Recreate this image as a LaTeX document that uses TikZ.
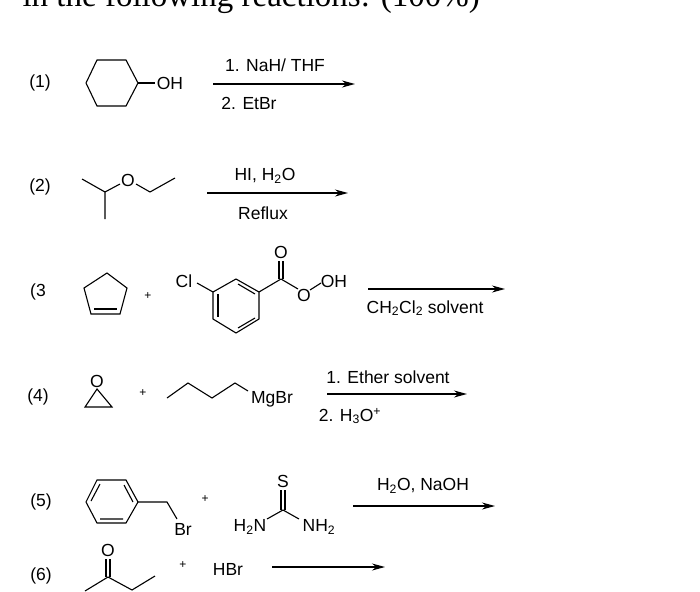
\documentclass[tikz,border=0pt]{standalone}
\usepackage{fontspec}
\usetikzlibrary{arrows.meta}
\setmainfont{Liberation Sans}
\newfontfamily\serifx{Liberation Serif}
\begin{document}
\begin{tikzpicture}[x=1pt,y=-1pt,line width=1.1pt,
  lab/.style={inner sep=0pt,font=\fontsize{17.5}{20}\selectfont},
  small/.style={inner sep=0pt,font=\fontsize{12}{13}\selectfont},
  rx/.style={-{Stealth[length=13pt,width=7pt]},line width=1.3pt}]
\useasboundingbox (0,0) rectangle (700,591);
\begin{scope}
\clip (0,0) rectangle (700,591);
\node[anchor=base west,inner sep=0pt,font=\serifx\fontsize{33}{36}\selectfont] (title) at (22,7) {in the following reactions: (100\%)};
\end{scope}
% (1)
\node[lab] (l1) at (40,83) {(1)};
\draw (86,83)--(97,60)--(126,60)--(138,83)--(126,106)--(97,106)--cycle;
\draw (138,83)--(155,83);
\node[lab] (oh1) at (170,83) {OH};
\coordinate (a1s) at (213,84); \coordinate (a1e) at (355,84);
\draw[rx] (a1s)--(a1e);
\node[lab] (r1a) at (275,65) {1. NaH/ THF};
\node[lab] (r1b) at (249,103) {2. EtBr};
% (2)
\node[lab] (l2) at (40,187) {(2)};
\draw (82,179)--(105,192)--(105,219);
\draw (105,192)--(120,184);
\node[lab] (o2) at (128,180) {O};
\draw (136,184)--(150,192)--(175,178);
\coordinate (a2s) at (207,193); \coordinate (a2e) at (348,193);
\draw[rx] (a2s)--(a2e);
\node[lab] (r2a) at (265,176) {HI, H\textsubscript{2}O};
\node[lab] (r2b) at (263,213) {Reflux};
% (3)
\node[lab] (l3) at (38,292) {(3};
\draw (107,273)--(127,288)--(120,314)--(91,314)--(84,288)--cycle;
\draw (94,309)--(117,309);
\node[small] (p3) at (148,296) {+};
\draw (213,292)--(236,279)--(259,292)--(259,319)--(236,333)--(213,319)--cycle;
\draw (238,284)--(255,294);
\draw (218,294)--(218,317);
\draw (238,328)--(255,318);
\draw (213,292)--(197,283);
\node[lab] (cl) at (184,281) {Cl};
\draw (259,292)--(281,279);
\draw (279,279)--(279,261) (283,279)--(283,261);
\node[lab] (o3a) at (281,252) {O};
\draw (281,279)--(298,289);
\node[lab] (o3b) at (304,295) {O};
\draw (310,290)--(321,283);
\node[lab] (oh3) at (334,281) {OH};
\coordinate (a3s) at (368,289); \coordinate (a3e) at (505,289);
\draw[rx] (a3s)--(a3e);
\node[lab] (r3) at (425,308) {CH\textsubscript{2}Cl\textsubscript{2} solvent};
% (4)
\node[lab] (l4) at (38,397) {(4)};
\node[lab] (o4) at (97,381) {O};
\draw (97,389)--(85,407)--(112,407)--cycle;
\node[small] (p4) at (143,393) {+};
\draw (167,398)--(188,383)--(212,398)--(235,383)--(248,391);
\node[lab] (mg) at (272,399) {MgBr};
\coordinate (a4s) at (327,394); \coordinate (a4e) at (467,394);
\draw[rx] (a4s)--(a4e);
\node[lab] (r4a) at (388,377) {1. Ether solvent};
\node[lab] (r4b) at (350,416) {2. H\textsubscript{3}O\textsuperscript{+}};
% (5)
\node[lab] (l5) at (41,502) {(5)};
\draw (86,502)--(97,480)--(126,480)--(138,502)--(126,523)--(97,523)--cycle;
\draw (91,501)--(100,484) (124,485)--(133,502) (100,519)--(123,519);
\draw (138,502)--(167,502)--(177,519);
\node[lab] (br5) at (183,529) {Br};
\node[small] (p5) at (205,499) {+};
\node[lab] (s5) at (283,481) {S};
\draw (281,490)--(281,510) (285,490)--(285,510);
\draw (267,519)--(283,510)--(299,519);
\node[lab] (n1) at (250,527) {H\textsubscript{2}N};
\node[lab] (n2) at (319,527) {NH\textsubscript{2}};
\coordinate (a5s) at (353,506); \coordinate (a5e) at (495,506);
\draw[rx] (a5s)--(a5e);
\node[lab] (r5) at (423,486) {H\textsubscript{2}O, NaOH};
% (6)
\node[lab] (l6) at (41,576) {(6)};
\node[lab] (o6) at (108,550) {O};
\draw (106,559)--(106,577) (110,559)--(110,577);
\draw (85,591)--(108,577)--(132,590)--(155,576);
\node[small] (p6) at (183,565) {+};
\node[lab] (hbr) at (228,569) {HBr};
\coordinate (a6s) at (272,567); \coordinate (a6e) at (385,567);
\draw[rx] (a6s)--(a6e);
\end{tikzpicture}
\end{document}
